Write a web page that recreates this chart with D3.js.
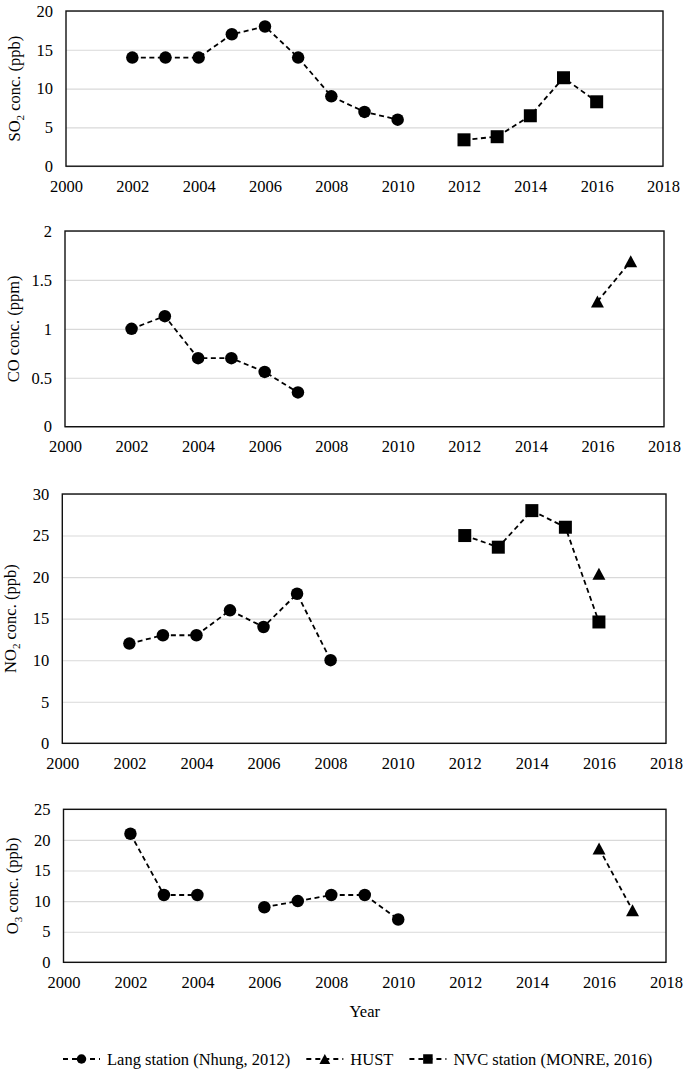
<!DOCTYPE html>
<html>
<head>
<meta charset="utf-8">
<script src="https://cdn.jsdelivr.net/npm/d3@7"></script>
<style>
  html, body { margin: 0; padding: 0; background: #fff; }
  svg { display: block; }
  text { font-family: "Liberation Serif", "Times New Roman", serif; fill: #000; }
</style>
</head>
<body>
<svg id="chart" width="685" height="1070"></svg>
<script>
// ---------------- DATA ----------------
const xTicks = [2000, 2002, 2004, 2006, 2008, 2010, 2012, 2014, 2016, 2018];

const so2LangYears  = [2002, 2003, 2004, 2005, 2006, 2007, 2008, 2009, 2010];
const so2LangValues = [14, 14, 14, 17, 18, 14, 9, 7, 6];
const so2NvcYears   = [2012, 2013, 2014, 2015, 2016];
const so2NvcValues  = [3.4, 3.8, 6.5, 11.4, 8.3];

const coLangYears  = [2002, 2003, 2004, 2005, 2006, 2007];
const coLangValues = [1.0, 1.13, 0.7, 0.7, 0.56, 0.35];
const coHustYears  = [2016, 2017];
const coHustValues = [1.28, 1.69];

const no2LangYears  = [2002, 2003, 2004, 2005, 2006, 2007, 2008];
const no2LangValues = [12, 13, 13, 16, 14, 18, 10];
const no2NvcYears   = [2012, 2013, 2014, 2015, 2016];
const no2NvcValues  = [25, 23.6, 28, 26, 14.6];
const no2HustYears  = [2016];
const no2HustValues = [20.4];

const o3LangYears  = [2002, 2003, 2004, 2005, 2006, 2007, 2008, 2009, 2010];
const o3LangValues = [21, 11, 11, null, 9, 10, 11, 11, 7];
const o3HustYears  = [2016, 2017];
const o3HustValues = [18.6, 8.5];

const so2Ticks = [0, 5, 10, 15, 20];
const coTicks  = [0, 0.5, 1, 1.5, 2];
const no2Ticks = [0, 5, 10, 15, 20, 25, 30];
const o3Ticks  = [0, 5, 10, 15, 20, 25];

const seriesNames = ["Lang station (Nhung, 2012)", "HUST", "NVC station (MONRE, 2016)"];
const seriesMarkers = ["circle", "triangle", "square"];
const xTitle = "Year";

// ---------------- LAYOUT ----------------
const panels = [
  { title: ["SO", "2", " conc. (ppb)"], ticks: so2Ticks, box: [66, 663, 11, 166.2],
    series: [
      { years: so2LangYears, values: so2LangValues, marker: "circle" },
      { years: so2NvcYears, values: so2NvcValues, marker: "square" } ] },
  { title: ["CO conc. (ppm)"], ticks: coTicks, box: [65, 664, 231, 426.7],
    series: [
      { years: coLangYears, values: coLangValues, marker: "circle" },
      { years: coHustYears, values: coHustValues, marker: "triangle" } ] },
  { title: ["NO", "2", " conc. (ppb)"], ticks: no2Ticks, box: [62.3, 666, 494, 743.3],
    series: [
      { years: no2LangYears, values: no2LangValues, marker: "circle" },
      { years: no2NvcYears, values: no2NvcValues, marker: "square" },
      { years: no2HustYears, values: no2HustValues, marker: "triangle" } ] },
  { title: ["O", "3", " conc. (ppb)"], ticks: o3Ticks, box: [63.5, 666, 809.3, 962.3],
    series: [
      { years: o3LangYears, values: o3LangValues, marker: "circle" },
      { years: o3HustYears, values: o3HustValues, marker: "triangle" } ] }
];

const FS = 16.5;
const svg = d3.select("#chart");

function markerPath(type, s) {
  if (type === "circle") {
    const r = s / 2;
    return `M${r},0A${r},${r} 0 1,1 ${-r},0A${r},${r} 0 1,1 ${r},0Z`;
  }
  if (type === "square") {
    const h = s / 2;
    return `M${-h},${-h}H${h}V${h}H${-h}Z`;
  }
  const h = s / 2, w = s * 0.54;
  return `M0,${-h}L${w},${h}L${-w},${h}Z`;
}
const markerSize = { circle: 12.5, square: 13, triangle: 12 };

panels.forEach(p => {
  const [x0, x1, y0, y1] = p.box;
  const x = d3.scaleLinear().domain([2000, 2018]).range([x0, x1]);
  const y = d3.scaleLinear().domain([0, d3.max(p.ticks)]).range([y1, y0]);
  const g = svg.append("g");

  // gridlines
  g.append("g")
    .attr("transform", `translate(${x0},0)`)
    .call(d3.axisLeft(y).tickValues(p.ticks).tickSize(-(x1 - x0)).tickFormat(""))
    .call(a => a.select(".domain").remove())
    .call(a => a.selectAll("line").attr("stroke", "#d9d9d9").attr("stroke-width", 1.1));

  // y tick labels
  g.append("g")
    .attr("transform", `translate(${x0},0)`)
    .call(d3.axisLeft(y).tickValues(p.ticks).tickSize(0).tickPadding(13).tickFormat(d3.format("")))
    .call(a => a.select(".domain").remove())
    .call(a => a.selectAll("text").attr("font-size", FS).attr("fill", "#000")
      .attr("font-family", '"Liberation Serif", serif'));

  // x tick labels
  g.append("g")
    .attr("transform", `translate(0,${y1})`)
    .call(d3.axisBottom(x).tickValues(xTicks).tickSize(0).tickPadding(14).tickFormat(d3.format("d")))
    .call(a => a.select(".domain").remove())
    .call(a => a.selectAll("text").attr("font-size", FS).attr("fill", "#000")
      .attr("font-family", '"Liberation Serif", serif'));

  // plot box
  g.append("rect")
    .attr("x", x0).attr("y", y0).attr("width", x1 - x0).attr("height", y1 - y0)
    .attr("fill", "none").attr("stroke", "#111").attr("stroke-width", 1.4);

  // y title
  const t = g.append("text")
    .attr("transform", `translate(${x0 - 46},${(y0 + y1) / 2}) rotate(-90)`)
    .attr("text-anchor", "middle")
    .attr("font-size", FS);
  if (p.title.length === 1) {
    t.text(p.title[0]);
  } else {
    t.append("tspan").text(p.title[0]);
    t.append("tspan").text(p.title[1]).attr("font-size", 11).attr("dy", 4);
    t.append("tspan").text(p.title[2]).attr("dy", -4);
  }

  // series
  p.series.forEach(s => {
    const pts = s.years.map((yr, i) => ({ yr, v: s.values[i] }));
    const line = d3.line().defined(d => d.v != null).x(d => x(d.yr)).y(d => y(d.v));
    g.append("path").datum(pts)
      .attr("d", line)
      .attr("fill", "none").attr("stroke", "#000")
      .attr("stroke-width", 1.8).attr("stroke-dasharray", "5,3.5");
    g.selectAll(null).data(pts.filter(d => d.v != null)).enter().append("path")
      .attr("d", markerPath(s.marker, markerSize[s.marker]))
      .attr("transform", d => `translate(${x(d.yr)},${y(d.v)})`)
      .attr("fill", "#000");
  });
});

// x title
const lastBox = panels[3].box;
svg.append("text")
  .attr("x", (lastBox[0] + lastBox[1]) / 2).attr("y", 1017)
  .attr("text-anchor", "middle").attr("font-size", FS)
  .text(xTitle);

// legend
const legend = svg.append("g");
let lx = 63;
const legY = 1059;
const legMarkerSize = { circle: 9.5, square: 9.5, triangle: 10 };
seriesNames.forEach((name, i) => {
  legend.append("line")
    .attr("x1", lx).attr("x2", lx + 37).attr("y1", legY).attr("y2", legY)
    .attr("stroke", "#000").attr("stroke-width", 1.8).attr("stroke-dasharray", "5,4");
  legend.append("path")
    .attr("d", markerPath(seriesMarkers[i], legMarkerSize[seriesMarkers[i]]))
    .attr("transform", `translate(${lx + 18.5},${legY})`)
    .attr("fill", "#000");
  const tx = legend.append("text")
    .attr("x", lx + 44).attr("y", legY + 5.5)
    .attr("font-size", FS)
    .text(name);
  const w = tx.node().getComputedTextLength();
  lx = lx + 44 + w + 16;
});
</script>
</body>
</html>
